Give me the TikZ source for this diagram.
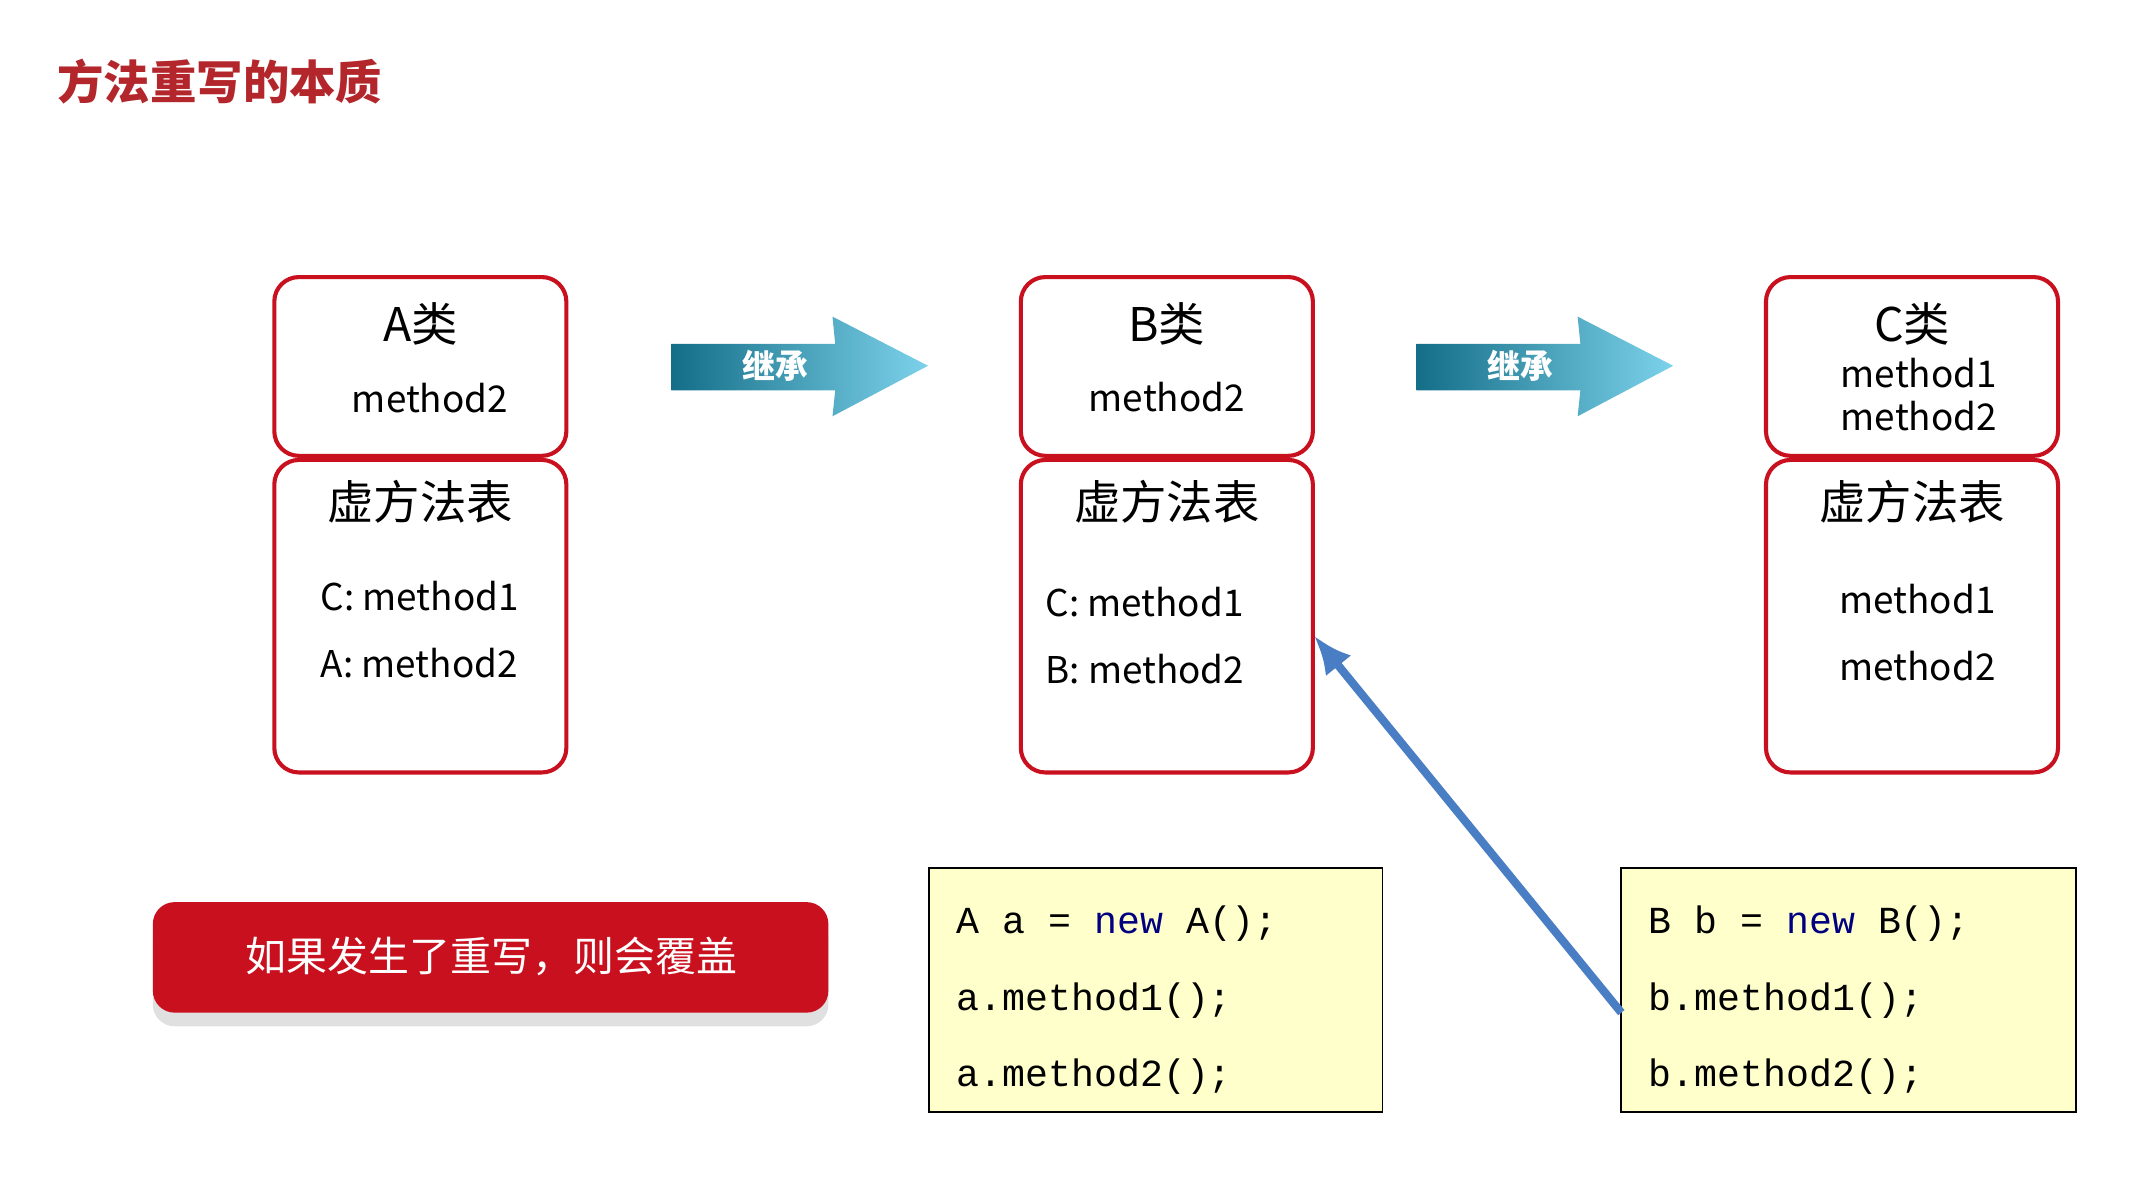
\documentclass[tikz,border=0pt]{standalone}
\usepackage{fontspec}
\setmainfont{Noto Sans CJK SC}
\newfontfamily\codefont{Liberation Mono}
\usetikzlibrary{arrows.meta}
\definecolor{boxred}{HTML}{C8101E}
\definecolor{titlered}{HTML}{B3262B}
\definecolor{codebg}{HTML}{FFFFCC}
\definecolor{arrblue}{HTML}{4A7EC4}
\definecolor{kwblue}{HTML}{000080}
\tikzset{
  cls/.style={draw=boxred,line width=1.5pt,rounded corners=9pt},
  codebox/.style={draw=black,line width=0.7pt,fill=codebg},
  codetxt/.style={anchor=west,font=\codefont\fontsize{14}{16}\selectfont},
  mtxt/.style={font=\fontsize{13.5}{16}\selectfont},
  vtxt/.style={font=\fontsize{17}{20}\selectfont},
}
\begin{document}
\begin{tikzpicture}[x=0.5pt,y=-0.5pt]
\useasboundingbox[fill=white] (0,0) rectangle (1560,875);
\node[anchor=west,text=titlered,font=\bfseries\fontsize{17}{20}\selectfont] (title) at (35,60) {方法重写的本质};
% class boxes
\foreach \n/\x in {A/201,B/748,C/1294}{
  \draw[cls] (\x,203) rectangle (\x+214,334);
  \draw[cls] (\x,337) rectangle (\x+214,566);
  \node[vtxt] (v\n) at (\x+107,368) {虚方法表};
}
\node[vtxt] (tA) at (308,237) {A类};
\node[mtxt] (mA) at (315,292) {method2};
\node[mtxt,anchor=west] (a1) at (228,437) {C: method1};
\node[mtxt,anchor=west] (a2) at (228,486) {A: method2};
\node[vtxt] (tB) at (855,237) {B类};
\node[mtxt] (mB) at (855,291) {method2};
\node[mtxt,anchor=west] (b1) at (759,441) {C: method1};
\node[mtxt,anchor=west] (b2) at (759,490) {B: method2};
\node[vtxt] (tC) at (1401,237) {C类};
\node[mtxt] (mC1) at (1406,273) {method1};
\node[mtxt] (mC2) at (1406,305) {method2};
\node[mtxt] (c1) at (1405,439) {method1};
\node[mtxt] (c2) at (1405,488) {method2};
% inheritance arrows
\foreach \x/\k in {492/1,1038/2}{
  \shade[left color={rgb,255:red,20;green,110;blue,135},right color={rgb,255:red,125;green,210;blue,235}]
    (\x,252) -- (\x+120,252) -- (\x+118,232) -- (\x+188,268) -- (\x+118,305) -- (\x+120,286) -- (\x,286) -- cycle;
  \node[text=white,font=\bfseries\fontsize{12}{14}\selectfont] (inh\k) at (\x+76,268) {继承};
}
% red button
\fill[black!12,rounded corners=8pt] (112,672) rectangle (607,752);
\fill[boxred,rounded corners=8pt] (112,661) rectangle (607,742);
\node[text=white,font=\fontsize{15}{18}\selectfont] (btn) at (360,701) {如果发生了重写，则会覆盖};
% code boxes
\draw[codebox] (681,636) rectangle (1013,815);
\node[codetxt] (ca1) at (694,677) {A a = \textcolor{kwblue}{new} A();};
\node[codetxt] (ca2) at (694,733) {a.method1();};
\node[codetxt] (ca3) at (694,789) {a.method2();};
\draw[codebox] (1188,636) rectangle (1521,815);
\node[codetxt] (cb1) at (1201,677) {B b = \textcolor{kwblue}{new} B();};
\node[codetxt] (cb2) at (1201,733) {b.method1();};
\node[codetxt] (cb3) at (1201,789) {b.method2();};
\coordinate (s) at (1188,742);
\coordinate (e) at (963,466);
\draw[arrblue,line width=3pt,-{Latex[length=14pt,width=12pt]}] (s) -- (e);
\end{tikzpicture}
\end{document}
